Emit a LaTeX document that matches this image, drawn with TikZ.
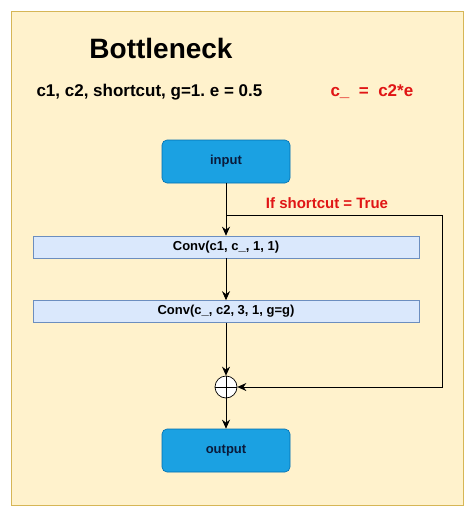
\documentclass[tikz,border=0pt]{standalone}
\usepackage{fontspec}
\setmainfont{Liberation Sans}
\usetikzlibrary{arrows.meta}
\definecolor{notebg}{HTML}{FFF2CC}
\definecolor{noteln}{HTML}{D6B656}
\definecolor{iobg}{HTML}{1BA1E2}
\definecolor{ioln}{HTML}{006EAF}
\definecolor{iotxt}{HTML}{0A1A3A}
\definecolor{convbg}{HTML}{DAE8FC}
\definecolor{convln}{HTML}{6C8EBF}
\definecolor{hotred}{HTML}{E01515}
\newcommand{\fs}[1]{\fontsize{#1}{#1}\selectfont\bfseries}
\tikzset{
  iobox/.style={draw=ioln,fill=iobg,rounded corners=5pt,line width=0.6pt,
    minimum width=128pt,minimum height=43pt,inner sep=0pt,text=iotxt,font=\fs{13}},
  convbox/.style={draw=convln,fill=convbg,line width=0.6pt,
    minimum width=386pt,minimum height=22pt,inner sep=0pt,font=\fs{13}},
  sumnode/.style={circle,draw,fill=white,line width=0.7pt,minimum size=22pt,inner sep=0pt},
  flow/.style={-{Stealth[length=9pt,width=8pt]},line width=0.8pt},
}

\begin{document}
\begin{tikzpicture}[x=1pt,y=-1pt]
\useasboundingbox (0,0) rectangle (474,516);

% --- note background -------------------------------------------------
\draw[noteln,fill=notebg,line width=0.8pt] (11,11) rectangle (463,505);

% --- header texts ------------------------------------------------------
\node[font=\fs{28}] (title) at (161,48) {Bottleneck};
\node[anchor=west,font=\fs{17}] (args) at (33,92) {c1, c2, shortcut, g=1.\ e = 0.5};
\node[anchor=west,font=\fs{17},text=hotred] (hid) at (327,92) {c\_\ \ =\ \ c2*e};

% --- blocks ------------------------------------------------------------
\node[iobox] (input) at (226,161.5) {input};
\node[convbox] (conv1) at (226,247) {Conv(c1, c\_, 1, 1)};
\node[convbox] (conv2) at (226,311.5) {Conv(c\_, c2, 3, 1, g=g)};
\node[sumnode] (sum) at (226,387) {};
\draw[line width=0.7pt] (sum.north) -- (sum.south) (sum.west) -- (sum.east);
\node[iobox] (output) at (226,450.5) {output};

% --- shortcut path -----------------------------------------------------
\coordinate (split) at (226,215);
\coordinate (sctop) at (442,215);
\coordinate (scbot) at (442,387);
\node[font=\fs{15},text=hotred] (cond) at (327,203) {If shortcut = True};

% --- connectors --------------------------------------------------------
\draw[flow] (input) -- (conv1);
\draw[flow] (conv1) -- (conv2);
\draw[flow] (conv2) -- (sum);
\draw[flow] (sum) -- (output);
\draw[flow] (split) -- (sctop) -- (scbot) -- (sum);

\end{tikzpicture}
\end{document}
